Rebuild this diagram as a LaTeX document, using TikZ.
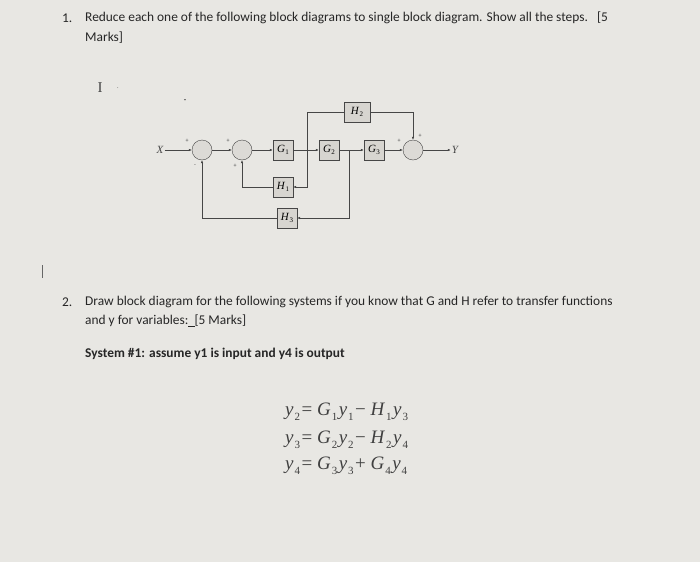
\documentclass[tikz,border=0pt]{standalone}
\usepackage{fontspec}
\setmainfont{Carlito}
\newfontfamily\eqfont{Liberation Serif}
\usetikzlibrary{arrows.meta}
\definecolor{bg}{RGB}{232,231,227}
\definecolor{ink}{RGB}{70,70,70}
\definecolor{blk}{RGB}{215,213,208}
\definecolor{sumc}{RGB}{220,218,214}
\newcommand{\vsub}[2]{\textit{#1}\kern0.05em\raisebox{-0.25em}{\fontsize{11}{11}\selectfont #2}\kern0.08em}
\newcommand{\bsub}[2]{\textit{#1}\kern0.03em\raisebox{-0.2em}{\fontsize{7}{7}\selectfont #2}}
\begin{document}
\begin{tikzpicture}[x=1pt,y=-1pt,
  txt/.style={anchor=west,inner sep=0pt,font=\fontsize{13.4}{15}\selectfont,text=black!85},
  blockbox/.style={draw=ink,fill=blk,minimum width=20pt,minimum height=20pt,inner sep=0pt,font=\eqfont\fontsize{11}{11}\selectfont},
  sumnode/.style={draw=ink,fill=sumc,circle,minimum size=20pt,inner sep=0pt},
  sig/.style={font=\fontsize{6}{6}\selectfont,inner sep=0pt,text=ink},
  lbl/.style={font=\eqfont\itshape\fontsize{11}{11}\selectfont,inner sep=1pt,text=ink},
  ar/.style={draw=ink,-{Latex[length=3pt,width=2.5pt]},line width=0.5pt},
  ln/.style={draw=ink,line width=0.5pt},
  eq/.style={anchor=west,inner sep=0pt,font=\eqfont\fontsize{19}{19}\selectfont,text=black!75}]
\fill[bg] (0,0) rectangle (700,562);
\useasboundingbox (0,0) rectangle (700,562);
% header
\node[txt] (n1) at (62,18) {1.};
\node[txt] (t1) at (85,18) {Reduce each one of the following block diagrams to single block diagram. Show all the steps.\ \ \ [5};
\node[txt] (t1b) at (85,38) {Marks]};
\node[lbl,font=\eqfont\fontsize{15}{15}\selectfont] (cur) at (100,88) {I};
\node[sig] (dot) at (118,88) {.};
% diagram
\node[lbl] (X) at (160,150) {X};
\node[sumnode] (s1) at (202,150) {};
\node[sumnode] (s2) at (242,150) {};
\node[blockbox] (G1) at (283,150) {\bsub{G}{1}};
\node[blockbox] (G2) at (329,150) {\bsub{G}{2}};
\node[blockbox] (G3) at (374,150) {\bsub{G}{3}};
\node[sumnode] (s3) at (413,150) {};
\node[lbl] (Y) at (455,150) {Y};
\node[blockbox,minimum width=26pt] (H2) at (357,112) {\bsub{H}{2}};
\node[blockbox] (H1) at (283,187) {\bsub{H}{1}};
\node[blockbox] (H3) at (287,218) {\bsub{H}{3}};
\coordinate (b1) at (307,150);
\coordinate (b2) at (349,150);
\draw[ar] (X) -- (s1);
\draw[ar] (s1) -- (s2);
\draw[ar] (s2) -- (G1);
\draw[ar] (G1) -- (G2);
\draw[ar] (G2) -- (G3);
\draw[ar] (G3) -- (s3);
\draw[ar] (s3) -- (Y);
\draw[ln] (H2.west) -| (b1);
\draw[ar] (b1) |- (H1.east);
\draw[ar] (H1.west) -| (s2.south);
\draw[ar] (H2.east) -| (s3.north);
\draw[ar] (b2) |- (H3.east);
\draw[ar] (H3.west) -| (s1.south);
\node[sig] (p1) at (187,141) {+};
\node[sig] (m1) at (195,166) {-};
\node[sig] (p2) at (228,141) {+};
\node[sig] (p3) at (235,166) {+};
\node[sig] (p4) at (399,141) {+};
\node[sig] (p5) at (420,136) {+};
\node[sig,font=\bfseries\fontsize{8}{8}\selectfont] (m0) at (185,101) {-};
% separator mark
\draw[ln,black!60] (42,265) -- (42,278);
% question 2
\node[txt] (n2) at (62,302) {2.};
\node[txt] (t2) at (85,302) {Draw block diagram for the following systems if you know that G and H refer to transfer functions};
\node[txt] (t2b) at (85,321) {and y for variables:\underline{\ \ }[5 Marks]};
\node[txt,font=\bfseries\fontsize{13.4}{15}\selectfont] (t3) at (85,354) {System \#1: assume y1 is input and y4 is output};
\node[eq] (e1) at (285,412) {\vsub{y}{2} = \vsub{G}{1}\vsub{y}{1} − \vsub{H}{1}\vsub{y}{3}};
\node[eq] (e2) at (285,440) {\vsub{y}{3} = \vsub{G}{2}\vsub{y}{2} − \vsub{H}{2}\vsub{y}{4}};
\node[eq] (e3) at (285,466) {\vsub{y}{4} = \vsub{G}{3}\vsub{y}{3} + \vsub{G}{4}\vsub{y}{4}};
\end{tikzpicture}
\end{document}
